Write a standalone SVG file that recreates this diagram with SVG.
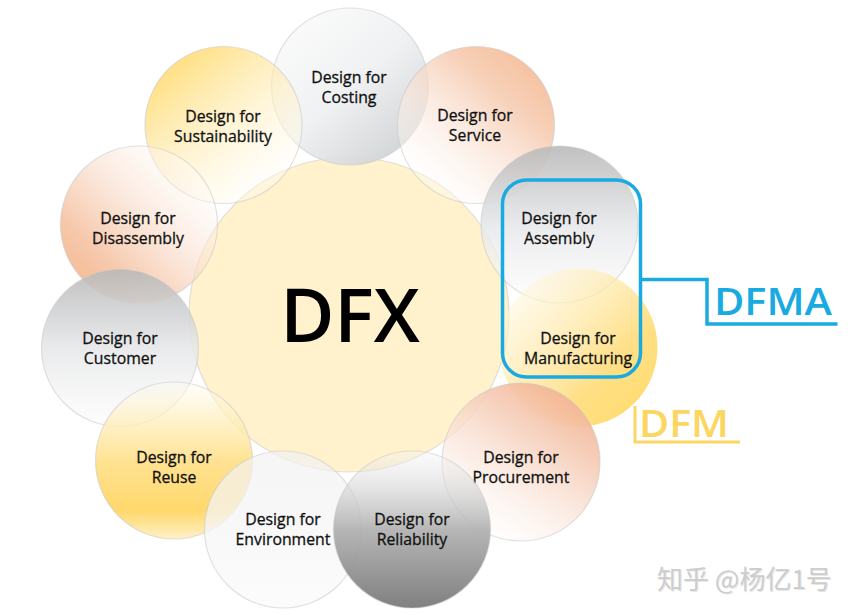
<svg xmlns="http://www.w3.org/2000/svg" width="853" height="615" viewBox="0 0 853 615">
<style>
.c{stroke:#c9c9c9;stroke-opacity:.55;stroke-width:1.2}
.t{font-family:"Open Sans","Noto Sans","Liberation Sans",sans-serif;font-size:15.8px;font-weight:400;fill:#111;stroke:#111;stroke-width:.3;text-anchor:middle}
.big{font-family:"Open Sans","Noto Sans","Liberation Sans",sans-serif;font-weight:600}
.wm{font-family:"Noto Sans CJK SC","Noto Sans",sans-serif;font-size:26px;fill:#cdcdcd;text-shadow:1px 1px 0 #e8e8e8}
.l{fill:none}
</style>
<defs>
<linearGradient id="gCost" x1=".15" y1=".1" x2=".85" y2=".9"><stop offset="0" stop-color="#fafafa"/><stop offset=".5" stop-color="#eef0f1"/><stop offset="1" stop-color="#cfd2d4"/></linearGradient>
<linearGradient id="gServ" x1=".85" y1=".15" x2=".2" y2=".9"><stop offset="0" stop-color="#f5bd98"/><stop offset=".25" stop-color="#f6ccb2"/><stop offset="1" stop-color="#ffffff" stop-opacity=".4"/></linearGradient>
<linearGradient id="gSust" x1=".15" y1=".15" x2=".8" y2=".95"><stop offset="0" stop-color="#ffdd78"/><stop offset="1" stop-color="#ffffff" stop-opacity=".4"/></linearGradient>
<linearGradient id="gDis" x1=".1" y1=".85" x2=".85" y2=".1"><stop offset="0" stop-color="#f4b68c"/><stop offset=".2" stop-color="#f5c2a2"/><stop offset="1" stop-color="#ffffff" stop-opacity=".4"/></linearGradient>
<linearGradient id="gGrayV" x1="0" y1="0" x2="0" y2="1"><stop offset="0" stop-color="#b8b8b8"/><stop offset=".5" stop-color="#e6e7e9"/><stop offset="1" stop-color="#fbfbfb" stop-opacity=".6"/></linearGradient>
<linearGradient id="gManu" x1=".1" y1=".1" x2=".85" y2=".85"><stop offset="0" stop-color="#fff8e2" stop-opacity=".6"/><stop offset=".75" stop-color="#ffdc78"/><stop offset="1" stop-color="#ffd966"/></linearGradient>
<linearGradient id="gReuse" x1="0" y1="0" x2="0" y2="1"><stop offset="0" stop-color="#fffaf0" stop-opacity=".4"/><stop offset=".2" stop-color="#fff1c6" stop-opacity=".8"/><stop offset=".5" stop-color="#ffe08a"/><stop offset=".82" stop-color="#ffd55f"/><stop offset="1" stop-color="#fff0c4"/></linearGradient>
<linearGradient id="gProc" x1=".8" y1=".1" x2=".25" y2=".95"><stop offset="0" stop-color="#f3b595"/><stop offset=".3" stop-color="#f6d0bc"/><stop offset="1" stop-color="#ffffff" stop-opacity=".5"/></linearGradient>
<linearGradient id="gEnv" x1="0" y1="0" x2="0" y2="1"><stop offset="0" stop-color="#f1f1f3" stop-opacity=".8"/><stop offset="1" stop-color="#fbfbfb"/></linearGradient>
<linearGradient id="gRel" x1="0" y1="0" x2="0" y2="1"><stop offset="0" stop-color="#f5f5f5" stop-opacity=".4"/><stop offset=".5" stop-color="#b0b0b0"/><stop offset="1" stop-color="#757575"/></linearGradient>
</defs>
<rect width="853" height="615" fill="#fff"/>
<g id="node-dfx">
<ellipse cx="349" cy="314.5" rx="160" ry="157.5" fill="#fff2cc" class="c"/>
<text x="350" y="341.5" class="big" font-size="74" text-anchor="middle" fill="#000">DFX</text>
</g>
<g id="node-costing"><circle cx="350" cy="86.5" r="78.5" fill="url(#gCost)" fill-opacity=".92" class="c"/><text class="t" x="349" y="82.5">Design for</text><text class="t" x="349" y="102.5">Costing</text></g>
<g id="node-service"><circle cx="476" cy="125" r="78.5" fill="url(#gServ)" fill-opacity=".9" class="c"/><text class="t" x="475" y="120.5">Design for</text><text class="t" x="475" y="140.5">Service</text></g>
<g id="node-sustainability"><circle cx="223.5" cy="125" r="78.5" fill="url(#gSust)" fill-opacity=".9" class="c"/><text class="t" x="223" y="121.5">Design for</text><text class="t" x="223" y="141.5">Sustainability</text></g>
<g id="node-disassembly"><circle cx="139" cy="224.5" r="78.5" fill="url(#gDis)" fill-opacity=".9" class="c"/><text class="t" x="138" y="223.5">Design for</text><text class="t" x="138" y="243.5">Disassembly</text></g>
<g id="node-assembly"><circle cx="559.5" cy="224.5" r="78.5" fill="url(#gGrayV)" fill-opacity=".88" class="c"/><text class="t" x="559" y="223.5">Design for</text><text class="t" x="559" y="243.5">Assembly</text></g>
<g id="node-customer"><circle cx="120" cy="348" r="78.5" fill="url(#gGrayV)" fill-opacity=".88" class="c"/><text class="t" x="120" y="343.5">Design for</text><text class="t" x="120" y="363.5">Customer</text></g>
<g id="node-manufacturing"><circle cx="578.5" cy="347.5" r="79" fill="url(#gManu)" fill-opacity=".9"/><text class="t" x="578" y="343.5">Design for</text><text class="t" x="578" y="363.5">Manufacturing</text></g>
<g id="node-reuse"><circle cx="174" cy="460.5" r="78.5" fill="url(#gReuse)" fill-opacity=".92" class="c"/><text class="t" x="174" y="462.5">Design for</text><text class="t" x="174" y="482.5">Reuse</text></g>
<g id="node-procurement"><circle cx="521" cy="462" r="79" fill="url(#gProc)" fill-opacity=".92" class="c"/><text class="t" x="521" y="462.5">Design for</text><text class="t" x="521" y="482.5">Procurement</text></g>
<g id="node-environment"><circle cx="283" cy="529.5" r="78.5" fill="url(#gEnv)" fill-opacity=".85" class="c"/><text class="t" x="283" y="524.5">Design for</text><text class="t" x="283" y="544.5">Environment</text></g>
<g id="node-reliability"><circle cx="412" cy="529.5" r="78.5" fill="url(#gRel)" fill-opacity=".92" class="c"/><text class="t" x="412" y="524.5">Design for</text><text class="t" x="412" y="544.5">Reliability</text></g>
<g id="node-dfma-box"><rect x="502.5" y="180" width="138" height="197" rx="24" fill="none" stroke="#1aaae2" stroke-width="3.5"/></g>
<g id="connectors">
<path class="l" d="M641 279.5H707V324H837.5" stroke="#1aaae2" stroke-width="3.5"/>
<path class="l" d="M635 406V442H740" stroke="#fbd662" stroke-width="3"/>
</g>
<g id="node-dfma"><text x="714" y="315" class="big" font-size="38" fill="#1aaae2" textLength="118" lengthAdjust="spacingAndGlyphs">DFMA</text></g>
<g id="node-dfm"><text x="639" y="437" class="big" font-size="38" fill="#fbd662" textLength="90" lengthAdjust="spacingAndGlyphs">DFM</text></g>
<g id="watermark"><text x="657" y="589" class="wm">知乎 @杨亿1号</text></g>
</svg>
